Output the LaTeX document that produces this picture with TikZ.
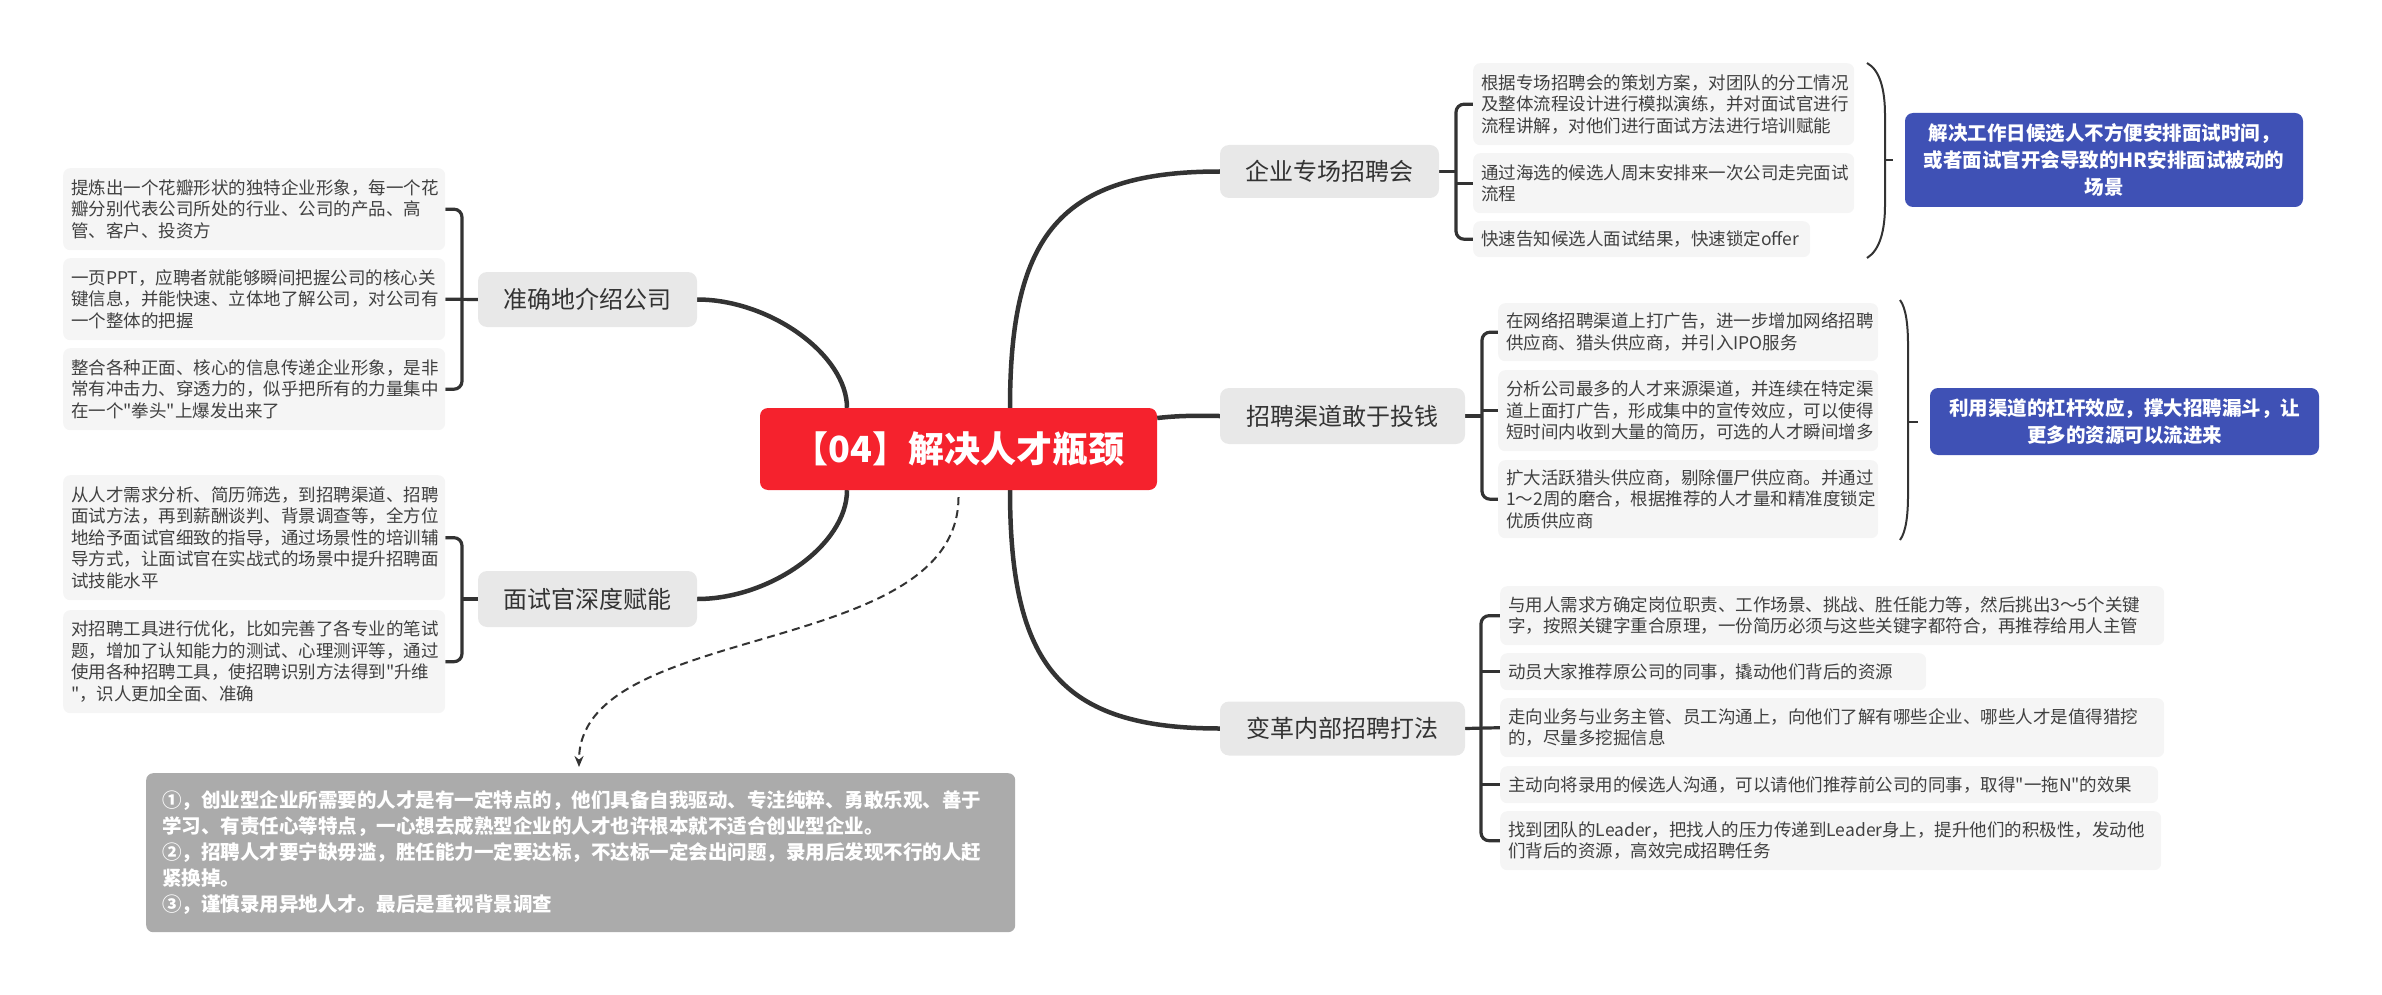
\documentclass[tikz,border=0pt]{standalone}
\usepackage{fontspec}
\setmainfont{Noto Sans CJK SC}[Ligatures=TeXOff]
\usetikzlibrary{arrows.meta,backgrounds}
\definecolor{linec}{HTML}{333333}
\definecolor{leaffill}{HTML}{F5F5F5}
\definecolor{leaftxt}{HTML}{404040}
\definecolor{brfill}{HTML}{E8E8E8}
\definecolor{brtxt}{HTML}{333333}
\definecolor{centerred}{HTML}{F5222D}
\definecolor{sumblue}{HTML}{3F51B5}
\definecolor{notegray}{HTML}{ABABAB}
\newcommand\leaffont{\fontsize{17.5}{21.5}\selectfont}
\begin{document}
\begin{tikzpicture}[x=1pt,y=-1pt,
  leafbox/.style={fill=leaffill, rounded corners=7pt, inner xsep=8pt, inner ysep=0pt, anchor=north west, align=left, font=\leaffont, text=leaftxt},
  branchbox/.style={fill=brfill, rounded corners=9pt, font=\fontsize{24}{28}\selectfont, text=brtxt, inner sep=0pt},
  centerbox/.style={fill=centerred, rounded corners=8pt, text=white, font=\bfseries\fontsize{36}{40}\selectfont, inner sep=0pt, minimum width=397pt, minimum height=82pt},
  sumbox/.style={fill=sumblue, rounded corners=8pt, text=white, font=\bfseries\fontsize{19.5}{27}\selectfont, align=center, inner sep=0pt},
  notebox/.style={fill=notegray, rounded corners=7pt, text=white, font=\bfseries\fontsize{19.5}{26}\selectfont, align=left, anchor=north west, inner xsep=16pt, inner ysep=0pt, text width=837pt, minimum height=159pt},
  mainline/.style={draw=linec, line width=4.5pt},
  brline/.style={draw=linec, line width=3.2pt},
  parenline/.style={draw=linec, line width=2pt},
  dashline/.style={draw=linec, line width=2pt, dash pattern=on 8pt off 5pt, -{Stealth[length=11pt,width=9pt]}}
]
\useasboundingbox (0,0) rectangle (2382,995);

% central
\node[centerbox] (c) at (958.5,449) {【04】解决人才瓶颈};

% branches
\node[branchbox, minimum width=219pt, minimum height=55pt] (B1) at (587.5,299.5) {准确地介绍公司};
\node[branchbox, minimum width=219pt, minimum height=56pt] (B2) at (587.5,599) {面试官深度赋能};
\node[branchbox, minimum width=219pt, minimum height=53pt] (R1) at (1329.5,171.5) {企业专场招聘会};
\node[branchbox, minimum width=245pt, minimum height=56pt] (R2) at (1342.5,416) {招聘渠道敢于投钱};
\node[branchbox, minimum width=245pt, minimum height=54pt] (R3) at (1342.5,728.5) {变革内部招聘打法};

% left leaves
\node[leafbox, text width=366pt, minimum height=82pt] (L1) at (63,168) {提炼出一个花瓣形状的独特企业形象，每一个花\\瓣分别代表公司所处的行业、公司的产品、高\\管、客户、投资方};
\node[leafbox, text width=366pt, minimum height=82pt] (L2) at (63,258) {一页PPT，应聘者就能够瞬间把握公司的核心关\\键信息，并能快速、立体地了解公司，对公司有\\一个整体的把握};
\node[leafbox, text width=366pt, minimum height=82pt] (L3) at (63,348) {整合各种正面、核心的信息传递企业形象，是非\\常有冲击力、穿透力的，似乎把所有的力量集中\\在一个"拳头"上爆发出来了};
\node[leafbox, text width=366pt, minimum height=125pt] (L4) at (63,475) {从人才需求分析、简历筛选，到招聘渠道、招聘\\面试方法，再到薪酬谈判、背景调查等，全方位\\地给予面试官细致的指导，通过场景性的培训辅\\导方式，让面试官在实战式的场景中提升招聘面\\试技能水平};
\node[leafbox, text width=366pt, minimum height=103pt] (L5) at (63,610) {对招聘工具进行优化，比如完善了各专业的笔试\\题，增加了认知能力的测试、心理测评等，通过\\使用各种招聘工具，使招聘识别方法得到"升维\\"，识人更加全面、准确};

% right group 1
\node[leafbox, text width=365pt, minimum height=82pt] (RL1) at (1473,63) {根据专场招聘会的策划方案，对团队的分工情况\\及整体流程设计进行模拟演练，并对面试官进行\\流程讲解，对他们进行面试方法进行培训赋能};
\node[leafbox, text width=365pt, minimum height=60pt] (RL2) at (1473,153) {通过海选的候选人周末安排来一次公司走完面试\\流程};
\node[leafbox, text width=321pt, minimum height=36pt] (RL3) at (1473,221) {快速告知候选人面试结果，快速锁定offer};

% right group 2
\node[leafbox, text width=364pt, minimum height=58pt] (RL4) at (1498,303) {在网络招聘渠道上打广告，进一步增加网络招聘\\供应商、猎头供应商，并引入IPO服务};
\node[leafbox, text width=364pt, minimum height=81pt] (RL5) at (1498,370) {分析公司最多的人才来源渠道，并连续在特定渠\\道上面打广告，形成集中的宣传效应，可以使得\\短时间内收到大量的简历，可选的人才瞬间增多};
\node[leafbox, text width=364pt, minimum height=78pt] (RL6) at (1498,460) {扩大活跃猎头供应商，剔除僵尸供应商。并通过\\1～2周的磨合，根据推荐的人才量和精准度锁定\\优质供应商};

% right group 3
\node[leafbox, text width=648pt, minimum height=59pt] (G1) at (1500,586) {与用人需求方确定岗位职责、工作场景、挑战、胜任能力等，然后挑出3～5个关键\\字，按照关键字重合原理，一份简历必须与这些关键字都符合，再推荐给用人主管};
\node[leafbox, text width=410pt, minimum height=37pt] (G2) at (1500,653) {动员大家推荐原公司的同事，撬动他们背后的资源};
\node[leafbox, text width=648pt, minimum height=59pt] (G3) at (1500,698) {走向业务与业务主管、员工沟通上，向他们了解有哪些企业、哪些人才是值得猎挖\\的，尽量多挖掘信息};
\node[leafbox, text width=642pt, minimum height=37pt] (G4) at (1500,766) {主动向将录用的候选人沟通，可以请他们推荐前公司的同事，取得"一拖N"的效果};
\node[leafbox, text width=645pt, minimum height=59pt] (G5) at (1500,811) {找到团队的Leader，把找人的压力传递到Leader身上，提升他们的积极性，发动他\\们背后的资源，高效完成招聘任务};

% summaries
\node[sumbox, minimum width=398pt, minimum height=94pt] (S1) at (2104,160) {解决工作日候选人不方便安排面试时间，\\或者面试官开会导致的HR安排面试被动的\\场景};
\node[sumbox, minimum width=389pt, minimum height=67pt] (S2) at (2124.5,421.5) {利用渠道的杠杆效应，撑大招聘漏斗，让\\更多的资源可以流进来};

% note
\node[notebox] (N) at (146,773) {①，创业型企业所需要的人才是有一定特点的，他们具备自我驱动、专注纯粹、勇敢乐观、善于\\学习、有责任心等特点，一心想去成熟型企业的人才也许根本就不适合创业型企业。\\②，招聘人才要宁缺毋滥，胜任能力一定要达标，不达标一定会出问题，录用后发现不行的人赶\\紧换掉。\\③，谨慎录用异地人才。最后是重视背景调查};

\coordinate (lx) at (462,0);
\coordinate (v1) at (1456,0);
\coordinate (v2) at (1482,0);
\coordinate (v3) at (1481,0);

\begin{pgfonlayer}{background}
% main curves
\draw[mainline] (B1.east) .. controls (770,299.5) and (847,355) .. ([xshift=-111.5pt]c.north);
\draw[mainline] (B2.east) .. controls (770,599) and (847,545) .. ([xshift=-111.5pt]c.south);
\draw[mainline] ([xshift=51.5pt]c.north) .. controls (1010,235) and (1060,171.5) .. (R1.west);
\draw[mainline] ([xshift=51.5pt]c.south) .. controls (1010,665) and (1060,728.5) .. (R3.west);
\draw[mainline] ([yshift=31pt]c.east) .. controls (1185,415) and (1200,416) .. (R2.west);

% left brackets
\draw[brline, rounded corners=8pt] (L1.east) -| (lx |- B1.west) |- (L3.east);
\draw[brline] (B1.west) -- (L2.east);
\draw[brline, rounded corners=8pt] (L4.east) -| (lx |- B2.west) |- (L5.east);
\draw[brline] (B2.west) -- (lx |- B2.west);

% right bracket 1
\draw[brline, rounded corners=8pt] (RL1.west) -| (v1 |- R1.east) |- (RL3.west);
\draw[brline] (R1.east) -- (v1 |- R1.east);
\draw[brline] (v1 |- RL2.west) -- (RL2.west);

% right bracket 2
\draw[brline, rounded corners=8pt] (RL4.west) -| (v2 |- R2.east) |- (RL6.west);
\draw[brline] (R2.east) -- (v2 |- R2.east);
\draw[brline] (v2 |- RL5.west) -- (RL5.west);

% right bracket 3
\draw[brline, rounded corners=8pt] (G1.west) -| (v3 |- R3.east) |- (G5.west);
\draw[brline] (R3.east) -- (G3.west);
\draw[brline] (v3 |- G2.west) -- (G2.west);
\draw[brline] (v3 |- G4.west) -- (G4.west);
\end{pgfonlayer}

% summary parentheses
\draw[parenline] (1867,63) .. controls (1880,70) and (1885,90) .. (1885,115) -- (1885,205) .. controls (1885,230) and (1880,250) .. (1867,258);
\coordinate (p1m) at (1885,160);
\draw[parenline] (p1m) -- ([xshift=-12pt]S1.west);
\draw[parenline] (1900,300) .. controls (1906,308) and (1908,325) .. (1908,345) -- (1908,495) .. controls (1908,515) and (1906,532) .. (1900,540);
\coordinate (p2m) at (1908,421.5);
\draw[parenline] (p2m) -- ([xshift=-12pt]S2.west);

% dashed arrow
\draw[dashline] ([yshift=-7pt]c.south) .. controls (958,660) and (579,620) .. ([xshift=433pt,yshift=6pt]N.north west);
\end{tikzpicture}
\end{document}
